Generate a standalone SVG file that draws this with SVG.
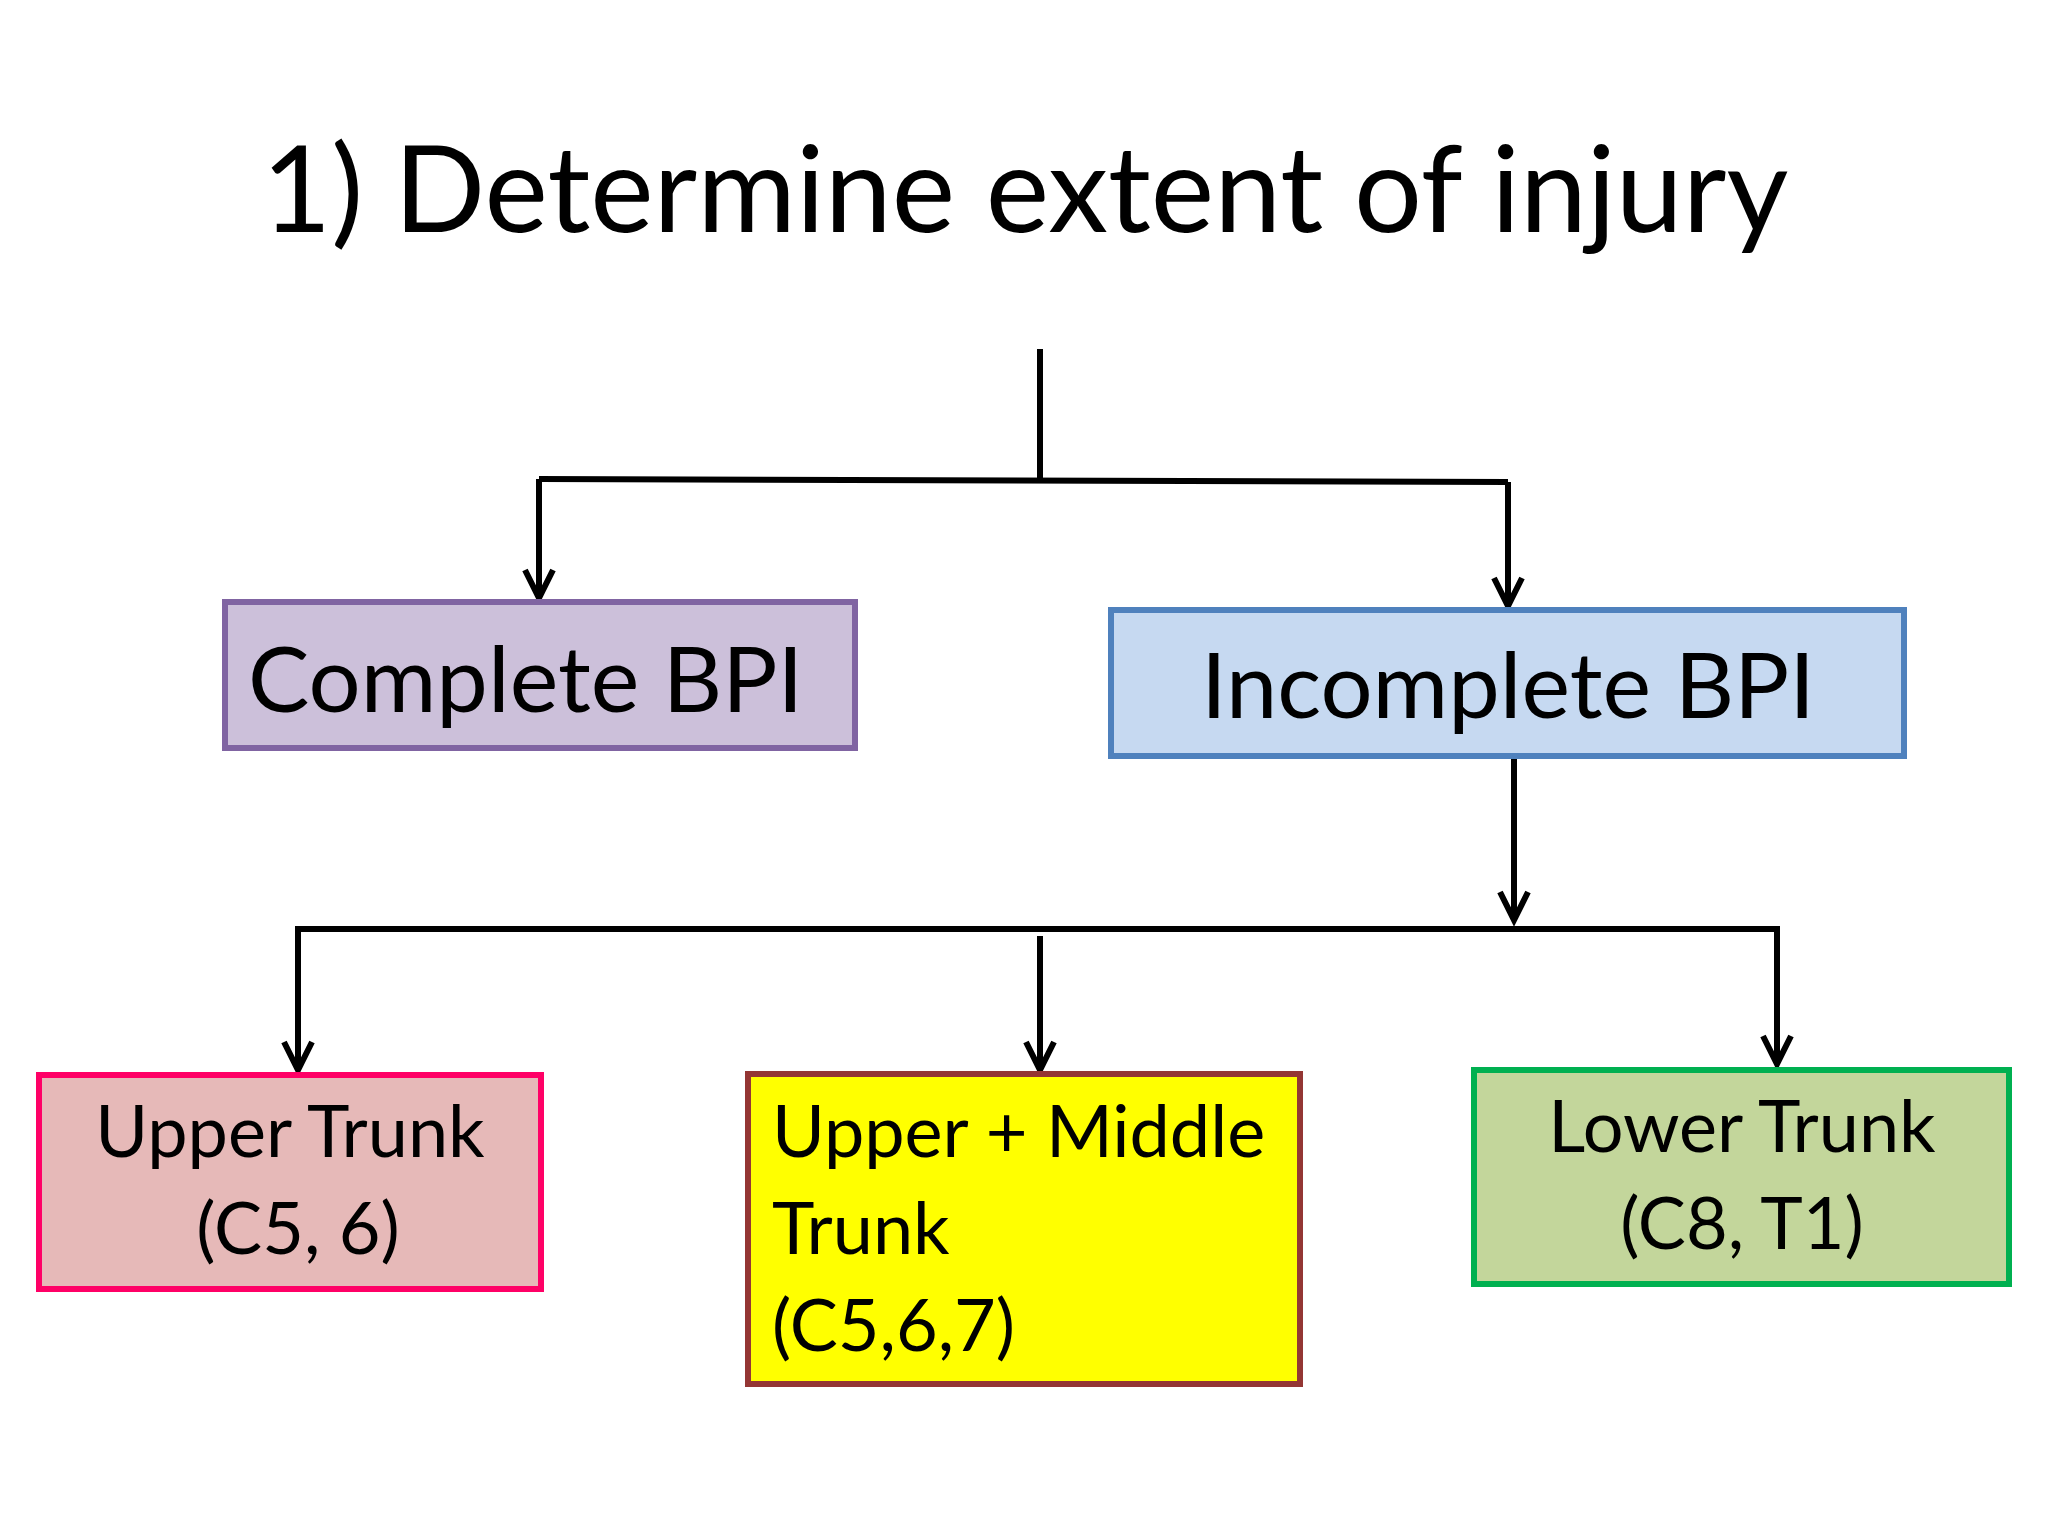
<svg xmlns="http://www.w3.org/2000/svg" width="2048" height="1536" viewBox="0 0 2048 1536">
<style>
text{font-family:Lato,"Open Sans","Noto Sans",sans-serif;fill:#000}
.c line,.c polyline{stroke:#000;stroke-width:6;fill:none}
.b{stroke-width:6}
</style>
<defs><marker id="a" markerWidth="12" markerHeight="12" refX="6" refY="10" orient="auto" markerUnits="userSpaceOnUse" viewBox="0 0 12 12"><path d="M0,0 L6,10 L12,0" fill="none" stroke="#000" stroke-width="0"/></marker></defs>
<rect width="2048" height="1536" fill="#fff"/>
<text x="1025" y="232" font-size="120" text-anchor="middle">1) Determine extent of injury</text>
<g class="c" id="connectors">
<line x1="1040" y1="349" x2="1040" y2="479"/>
<line x1="539" y1="479" x2="1508" y2="482"/>
<line x1="539" y1="479" x2="539" y2="598"/>
<polyline points="525,570 539,598 553,570"/>
<line x1="1508" y1="482" x2="1508" y2="606"/>
<polyline points="1494,578 1508,606 1522,578"/>
<line x1="1514" y1="756" x2="1514" y2="920"/>
<polyline points="1500,892 1514,920 1528,892"/>
<polyline points="298,1070 298,929 1777,929 1777,1064"/>
<polyline points="284,1042 298,1070 312,1042"/>
<polyline points="1763,1036 1777,1064 1791,1036"/>
<line x1="1040" y1="936" x2="1040" y2="1070"/>
<polyline points="1026,1042 1040,1070 1054,1042"/>
</g>
<g id="complete"><rect class="b" x="225" y="602" width="630" height="146" fill="#ccc0da" stroke="#8064a2"/><text x="248" y="712" font-size="92">Complete BPI</text></g>
<g id="incomplete"><rect class="b" x="1111" y="610" width="793" height="146" fill="#c6d9f1" stroke="#4f81bd"/><text x="1508" y="718" font-size="92" text-anchor="middle">Incomplete BPI</text></g>
<g id="upper"><rect class="b" x="39" y="1075" width="502" height="214" fill="#e6b9b8" stroke="#ff0066"/><text x="290" y="1157" font-size="72" text-anchor="middle">Upper Trunk</text><text x="298" y="1254" font-size="72" text-anchor="middle">(C5, 6)</text></g>
<g id="uppermiddle"><rect class="b" x="748" y="1074" width="552" height="310" fill="#ffff00" stroke="#943634"/><text x="772" y="1157" font-size="72">Upper + Middle</text><text x="772" y="1254" font-size="72">Trunk</text><text x="772" y="1351" font-size="72">(C5,6,7)</text></g>
<g id="lower"><rect class="b" x="1474" y="1070" width="535" height="214" fill="#c3d69b" stroke="#00b050"/><text x="1742" y="1152" font-size="72" text-anchor="middle">Lower Trunk</text><text x="1742" y="1249" font-size="72" text-anchor="middle">(C8, T1)</text></g>
</svg>
